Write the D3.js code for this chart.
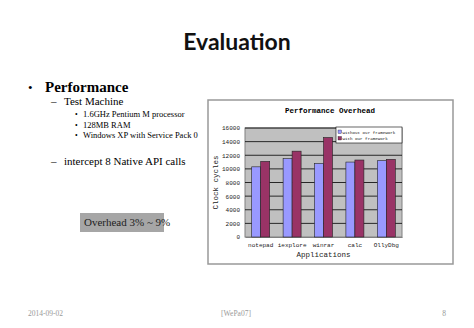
<!DOCTYPE html>
<html>
<head>
<meta charset="utf-8">
<script src="https://cdn.jsdelivr.net/npm/d3@7"></script>
<style>
  html, body { margin: 0; padding: 0; background: #fff; }
  svg { display: block; }
</style>
</head>
<body>
<script>
var WIDTH = 474;
var HEIGHT = 328;

// chart data
var apps = ["notepad", "iexplore", "winrar", "calc", "OllyDbg"];
var seriesNames = ["Without our framework", "With our framework"];
var withoutValues = [10300, 11500, 10800, 11000, 11200];
var withValues = [11100, 12600, 14600, 11300, 11400];
var yTicks = [0, 2000, 4000, 6000, 8000, 10000, 12000, 14000, 16000];
var seriesColors = ["#9999ff", "#993366"];

var svg = d3.select("body")
    .append("svg")
    .attr("width", WIDTH)
    .attr("height", HEIGHT);

// slide text
svg.append("text")
    .attr("x", 237).attr("y", 50)
    .attr("text-anchor", "middle")
    .style("font-family", "Lato, 'Open Sans', sans-serif")
    .style("font-weight", "bold")
    .style("font-size", "23px")
    .style("fill", "#111")
    .text("Evaluation");

var serif = "'Liberation Serif', 'DejaVu Serif', serif";

svg.append("text").attr("x", 28).attr("y", 92)
    .style("font-family", serif).style("font-size", "13px").text("\u2022");
svg.append("text").attr("x", 45).attr("y", 92)
    .style("font-family", serif).style("font-weight", "bold").style("font-size", "15px")
    .text("Performance");

svg.append("text").attr("x", 51).attr("y", 105)
    .style("font-family", serif).style("font-size", "11px").text("\u2013");
svg.append("text").attr("x", 64).attr("y", 105)
    .style("font-family", serif).style("font-size", "11px").text("Test Machine");

var specs = ["1.6GHz Pentium M processor", "128MB RAM", "Windows XP with Service Pack 0"];
svg.selectAll("text.spec")
    .data(specs)
    .enter()
    .append("text")
    .attr("class", "spec")
    .attr("x", 83)
    .attr("y", function (d, i) { return 117 + i * 10.7; })
    .style("font-family", serif).style("font-size", "8.5px")
    .text(function (d) { return d; });
svg.selectAll("text.specdot")
    .data(specs)
    .enter()
    .append("text")
    .attr("class", "specdot")
    .attr("x", 75)
    .attr("y", function (d, i) { return 117 + i * 10.7; })
    .style("font-family", serif).style("font-size", "7.5px")
    .text("\u2022");

svg.append("text").attr("x", 51).attr("y", 165)
    .style("font-family", serif).style("font-size", "11px").text("\u2013");
svg.append("text").attr("x", 64).attr("y", 165)
    .style("font-family", serif).style("font-size", "11px").text("intercept 8 Native API calls");

svg.append("rect")
    .attr("x", 80).attr("y", 213).attr("width", 84).attr("height", 19)
    .style("fill", "#a6a6a6");
svg.append("text").attr("x", 84).attr("y", 226)
    .style("font-family", serif).style("font-size", "11px").style("fill", "#222")
    .text("Overhead 3% ~ 9%");

// footer
var footStyle = function (sel) {
    sel.style("font-family", serif).style("font-size", "7.5px").style("fill", "#999");
};
svg.append("text").attr("x", 28).attr("y", 316).text("2014-09-02").call(footStyle);
svg.append("text").attr("x", 236).attr("y", 316).attr("text-anchor", "middle").text("[WePa07]").call(footStyle);
svg.append("text").attr("x", 446).attr("y", 316).attr("text-anchor", "end").text("8").call(footStyle);

// chart
var mono = "'Liberation Mono', 'DejaVu Sans Mono', monospace";

svg.append("rect")
    .attr("x", 208).attr("y", 100).attr("width", 245).attr("height", 164)
    .style("fill", "#fff").style("stroke", "#999").style("stroke-width", 1.5);

svg.append("text")
    .attr("x", 330).attr("y", 113)
    .attr("text-anchor", "middle")
    .style("font-family", mono).style("font-weight", "bold").style("font-size", "7.5px")
    .text("Performance Overhead");

var plot = {left: 245, top: 128, right: 402, bottom: 237};
var BAR_W = 9;

var x = d3.scaleBand()
    .domain(apps)
    .range([plot.left, plot.right]);

var xInner = d3.scaleBand()
    .domain([0, 1])
    .range([x.bandwidth() / 2 - BAR_W, x.bandwidth() / 2 + BAR_W]);

var y = d3.scaleLinear()
    .domain([0, 16000])
    .range([plot.bottom, plot.top]);

svg.append("rect")
    .attr("x", plot.left).attr("y", plot.top)
    .attr("width", plot.right - plot.left).attr("height", plot.bottom - plot.top)
    .style("fill", "#c0c0c0").style("stroke", "#808080").style("stroke-width", 1);

svg.append("g")
    .selectAll("line")
    .data(yTicks.slice(1))
    .enter()
    .append("line")
    .attr("x1", plot.left).attr("x2", plot.right)
    .attr("y1", function (d) { return y(d); })
    .attr("y2", function (d) { return y(d); })
    .style("stroke", "#000").style("stroke-width", 0.8);

var yAxis = svg.append("g")
    .attr("transform", "translate(" + plot.left + ",0)")
    .call(d3.axisLeft(y).tickValues(yTicks).tickFormat(d3.format("d")).tickSize(0).tickPadding(5));
yAxis.select(".domain").remove();
yAxis.selectAll("text")
    .style("font-family", mono).style("font-size", "6px").style("fill", "#222");

var xAxis = svg.append("g")
    .attr("transform", "translate(0," + plot.bottom + ")")
    .call(d3.axisBottom(x).tickSize(0).tickPadding(6));
xAxis.select(".domain").style("stroke", "#808080");
xAxis.selectAll("text")
    .style("font-family", mono).style("font-size", "6px").style("fill", "#222");

var series = [withoutValues, withValues];
svg.append("g")
    .selectAll("g")
    .data(series)
    .enter()
    .append("g")
    .style("fill", function (d, i) { return seriesColors[i]; })
    .each(function (values, si) {
        d3.select(this).selectAll("rect")
            .data(values)
            .enter()
            .append("rect")
            .attr("x", function (d, i) { return x(apps[i]) + xInner(si); })
            .attr("width", xInner.bandwidth())
            .attr("y", function (d) { return y(d); })
            .attr("height", function (d) { return plot.bottom - y(d); })
            .style("stroke", "#222")
            .style("stroke-width", 0.6);
    });

svg.append("text")
    .attr("transform", "translate(218," + ((plot.top + plot.bottom) / 2) + ") rotate(-90)")
    .attr("text-anchor", "middle")
    .style("font-family", mono).style("font-size", "7.5px").style("fill", "#222")
    .text("Clock cycles");

svg.append("text")
    .attr("x", (plot.left + plot.right) / 2).attr("y", 257)
    .attr("text-anchor", "middle")
    .style("font-family", mono).style("font-size", "7.5px").style("fill", "#222")
    .text("Applications");

// legend
var legend = svg.append("g").attr("transform", "translate(336,127)");
legend.append("rect")
    .attr("width", 66).attr("height", 16)
    .style("fill", "#fff").style("stroke", "#000").style("stroke-width", 0.6);
var items = legend.selectAll("g")
    .data(seriesNames)
    .enter()
    .append("g")
    .attr("transform", function (d, i) { return "translate(2," + (3 + i * 6.5) + ")"; });
items.append("rect")
    .attr("width", 3.5).attr("height", 3.5)
    .style("fill", function (d, i) { return seriesColors[i]; })
    .style("stroke", "#000").style("stroke-width", 0.3);
items.append("text")
    .attr("x", 4.5).attr("y", 3.5)
    .style("font-family", mono).style("font-size", "4.2px").style("fill", "#111")
    .text(function (d) { return d; });
</script>
</body>
</html>
